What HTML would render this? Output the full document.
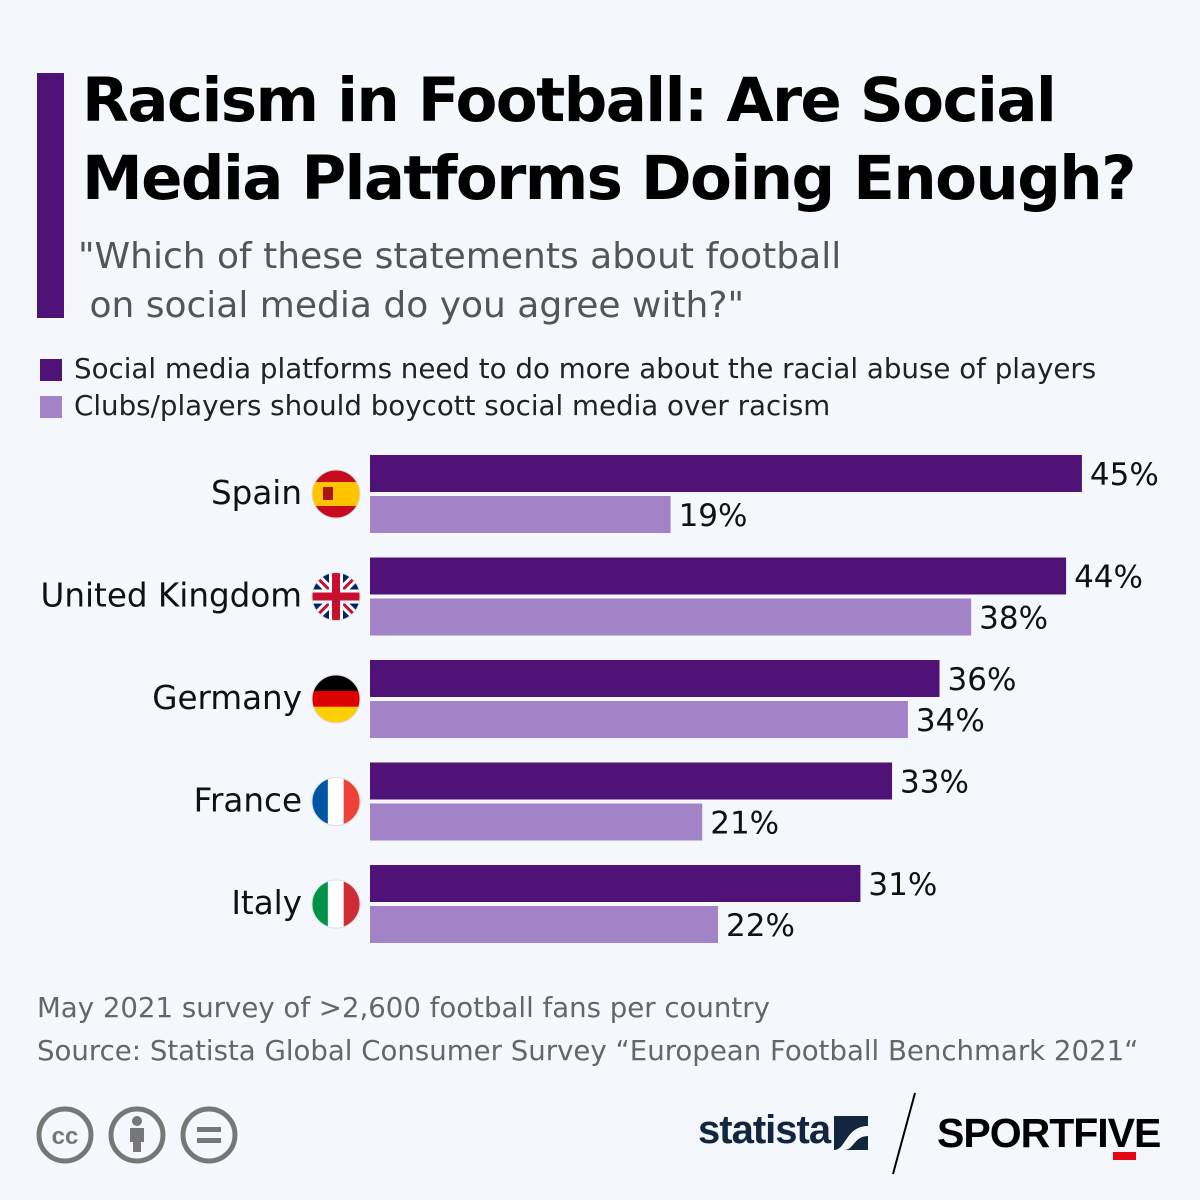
<!DOCTYPE html>
<html><head><meta charset="utf-8"><style>
body{margin:0;width:1200px;height:1200px;background:#f4f7fb;font-family:"DejaVu Sans","Liberation Sans",sans-serif;position:relative;overflow:hidden}
.a{position:absolute;white-space:nowrap}
</style></head><body>
<div class="a" style="left:37px;top:73px;width:27px;height:245px;background:#4f1277"></div>
<div class="a" style="left:82px;top:62px;font-size:61px;font-weight:bold;line-height:78px;color:#000;letter-spacing:-1.6px">Racism in Football: Are Social<br>Media Platforms Doing Enough?</div>
<div class="a" style="left:78px;top:232px;font-size:36px;line-height:49px;color:#555">"Which of these statements about football<br>&nbsp;on social media do you agree with?"</div>
<div class="a" style="left:40px;top:359px;width:22px;height:22px;background:#4f1277"></div>
<div class="a" style="left:74px;top:352px;font-size:27.7px;color:#222">Social media platforms need to do more about the racial abuse of players</div>
<div class="a" style="left:40px;top:396px;width:22px;height:22px;background:#a283c8"></div>
<div class="a" style="left:74px;top:389px;font-size:27.7px;color:#222">Clubs/players should boycott social media over racism</div>
<svg class="a" style="left:0;top:0" width="1200" height="1200" id="chart"></svg>
<div class="a" style="left:37px;top:991px;font-size:27.6px;color:#666">May 2021 survey of &gt;2,600 football fans per country</div>
<div class="a" style="left:37px;top:1034px;font-size:27.6px;color:#666">Source: Statista Global Consumer Survey “European Football Benchmark 2021“</div>
<svg class="a" style="left:35px;top:1105px" width="210" height="60">
<g fill="none" stroke="#777" stroke-width="5"><circle cx="30" cy="30" r="26"/><circle cx="102" cy="30" r="26"/><circle cx="174" cy="30" r="26"/></g>
<text x="30" y="39" font-size="24" font-weight="bold" fill="#777" text-anchor="middle" font-family="Liberation Sans">cc</text>
<circle cx="102" cy="16" r="5" fill="#777"/><rect x="95" y="23" width="14" height="14" fill="#777"/><rect x="98" y="35" width="8" height="12" fill="#777"/>
<rect x="162" y="22" width="24" height="5" fill="#777"/><rect x="162" y="33" width="24" height="5" fill="#777"/>
</svg>
<div class="a" style="left:698px;top:1108px;font-size:40px;font-weight:bold;color:#12263f;font-family:'Liberation Sans Narrow','Liberation Sans',sans-serif;letter-spacing:-1px">statista</div>
<svg class="a" style="left:834px;top:1116px" width="34" height="34"><rect width="34" height="34" fill="#12263f"/><path d="M0 34 C12 34 12 10 34 10 L34 20 C20 20 20 34 10 34Z" fill="#f4f7fb"/></svg>
<svg class="a" style="left:890px;top:1090px" width="30" height="90"><line x1="25" y1="3" x2="3" y2="84" stroke="#000" stroke-width="2"/></svg>
<div class="a" style="left:937px;top:1110px;font-size:41px;font-weight:900;color:#000;font-family:'Liberation Sans',sans-serif;letter-spacing:-1px">SPORTFIVE</div>
<div class="a" style="left:1113px;top:1152px;width:23px;height:8px;background:#e30613"></div>
<script>
const countries=["Spain","United Kingdom","Germany","France","Italy"];
const needMore=[45,44,36,33,31];
const boycott=[19,38,34,21,22];
const svg=document.getElementById('chart');
const NS='http://www.w3.org/2000/svg';
const x0=370, pxPer=15.82;
const xs=v=>x0+v*pxPer;
const ys=i=>455+i*102.5;
function mk(t,attrs){const e=document.createElementNS(NS,t);for(const k in attrs)e.setAttribute(k,attrs[k]);svg.appendChild(e);return e;}
const flags=[
 [["#c60b1e",0,0.25],["#ffc400",0.25,0.5],["#c60b1e",0.75,0.25]],
 null,
 [["#000",0,0.34],["#dd0000",0.33,0.34],["#ffce00",0.66,0.34]],
 [["#0055a4",0,0.34,"v"],["#fff",0.33,0.34,"v"],["#ef4135",0.66,0.34,"v"]],
 [["#009246",0,0.34,"v"],["#fff",0.33,0.34,"v"],["#ce2b37",0.66,0.34,"v"]]
];
countries.forEach((c,i)=>{
 const y=ys(i);
 const b1=mk('rect',{x:x0,y:y,width:xs(needMore[i])-x0,height:37,fill:'#4f1277'});
 
 
 const b2=mk('rect',{x:x0,y:y+41,width:xs(boycott[i])-x0,height:37,fill:'#a283c8'});
 
 
 const t1=mk('text',{x:xs(needMore[i])+8,y:y+30,'font-size':31,fill:'#111'});t1.textContent=needMore[i]+'%';
 
 
 const t2=mk('text',{x:xs(boycott[i])+8,y:y+71,'font-size':31,fill:'#111'});t2.textContent=boycott[i]+'%';
 
 
 const lb=mk('text',{x:302,y:y+49,'font-size':32.6,fill:'#111','text-anchor':'end'});lb.textContent=c;
 
 
 const cx=336,cy=y+39,r=24;
 const g=document.createElementNS(NS,'g');svg.appendChild(g);
 
 
 const cid='c'+i;
 const cp=document.createElementNS(NS,'clipPath');cp.id=cid;const cc=document.createElementNS(NS,'circle');
 cc.setAttribute('cx',cx);cc.setAttribute('cy',cy);cc.setAttribute('r',r);cp.appendChild(cc);g.appendChild(cp);
 const gg=document.createElementNS(NS,'g');gg.setAttribute('clip-path','url(#'+cid+')');g.appendChild(gg);
 const add=(t,a)=>{const e=document.createElementNS(NS,t);for(const k in a)e.setAttribute(k,a[k]);gg.appendChild(e);};
 if(flags[i]){flags[i].forEach(s=>{if(s[3])add('rect',{x:cx-r+s[1]*2*r,y:cy-r,width:s[2]*2*r+1,height:2*r,fill:s[0]});else add('rect',{x:cx-r,y:cy-r+s[1]*2*r,width:2*r,height:s[2]*2*r+1,fill:s[0]});});
  if(i==0)add('rect',{x:cx-13,y:cy-7,width:10,height:13,fill:'#ad1519'});}
 else{add('rect',{x:cx-r,y:cy-r,width:2*r,height:2*r,fill:'#012169'});
  add('path',{d:`M${cx-r} ${cy-r}L${cx+r} ${cy+r}M${cx+r} ${cy-r}L${cx-r} ${cy+r}`,stroke:'#fff','stroke-width':9});
  add('path',{d:`M${cx-r} ${cy-r}L${cx+r} ${cy+r}M${cx+r} ${cy-r}L${cx-r} ${cy+r}`,stroke:'#c8102e','stroke-width':3});
  add('rect',{x:cx-r,y:cy-7,width:2*r,height:14,fill:'#fff'});add('rect',{x:cx-7,y:cy-r,width:14,height:2*r,fill:'#fff'});
  add('rect',{x:cx-r,y:cy-4,width:2*r,height:8,fill:'#c8102e'});add('rect',{x:cx-4,y:cy-r,width:8,height:2*r,fill:'#c8102e'});}
 const o=document.createElementNS(NS,'circle');o.setAttribute('cx',cx);o.setAttribute('cy',cy);o.setAttribute('r',r);o.setAttribute('fill','none');o.setAttribute('stroke','#ddd');o.setAttribute('stroke-width','1');g.appendChild(o);
});
</script>
</body></html>
